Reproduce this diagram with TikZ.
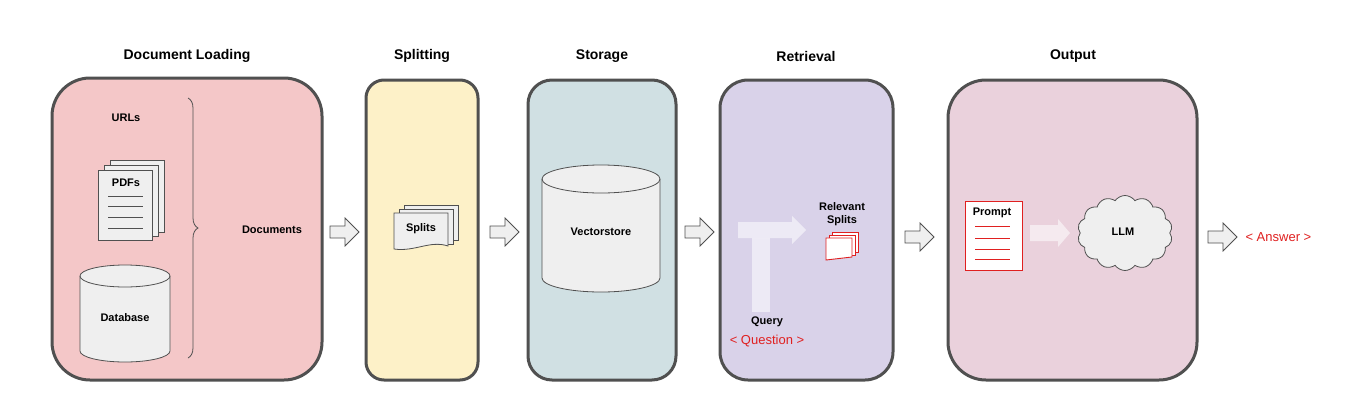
\documentclass[tikz,border=0pt]{standalone}
\usepackage{fontspec}
\setmainfont{Liberation Sans}
\usetikzlibrary{shapes.symbols,decorations.pathreplacing}
\definecolor{bord}{HTML}{505050}
\definecolor{ans}{HTML}{E02020}
\definecolor{pgfill}{HTML}{EFEFEF}
\begin{document}
\begin{tikzpicture}[x=1pt,y=-1pt,
  panel/.style={draw=bord,line width=3pt,rounded corners=38pt},
  title/.style={font=\bfseries\fontsize{14}{16}\selectfont},
  lbl/.style={font=\bfseries\fontsize{11}{13}\selectfont},
  red/.style={font=\fontsize{13}{15}\selectfont,text=ans},
  page/.style={draw=bord,fill=pgfill,line width=0.8pt},
  rpage/.style={draw=ans,fill=white,line width=0.9pt},
  light/.style={fill=white,opacity=0.55},
  blk/.pic={\draw[page] (0,-6) -- (15,-6) -- (15,-14) -- (29,0) -- (15,14) -- (15,6) -- (0,6) -- cycle;},
  cylp/.pic={\draw[page] (-\cyw,0) -- (-\cyw,\cyh) arc[start angle=180,end angle=0,x radius=\cyw,y radius=\cyr] -- (\cyw,0) arc[start angle=0,end angle=-180,x radius=\cyw,y radius=\cyr];
             \draw[bord,line width=0.8pt] (-\cyw,0) arc[start angle=180,end angle=0,x radius=\cyw,y radius=\cyr];}]
\useasboundingbox[fill=white] (0,0) rectangle (1358,410);
% panels
\draw[panel,fill={rgb,255:red,244;green,199;blue,200}] (52,78) rectangle (322,380);
\draw[panel,fill={rgb,255:red,253;green,241;blue,200},rounded corners=18pt] (366,80) rectangle (478,380);
\draw[panel,fill={rgb,255:red,208;green,224;blue,227},rounded corners=24pt] (528,80) rectangle (676,380);
\draw[panel,fill={rgb,255:red,217;green,210;blue,233},rounded corners=28pt] (720,80) rectangle (893,380);
\draw[panel,fill={rgb,255:red,234;green,209;blue,220}] (948,80) rectangle (1197,380);
% titles
\node[title] (t1) at (187,56) {Document Loading};
\node[title] (t2) at (422,56) {Splitting};
\node[title] (t3) at (602,56) {Storage};
\node[title] (t4) at (806,56) {Retrieval};
\node[title] (t5) at (1073,56) {Output};
% block arrows
\pic at (330,232) {blk};
\pic at (490,232) {blk};
\pic at (685,232) {blk};
\pic at (905,237) {blk};
\pic at (1208,237) {blk};
\node[red,anchor=west] (ans) at (1242,237) {< Answer >};
% loading
\node[lbl] (urls) at (126,118) {URLs};
\draw[page] (110,160) rectangle (164,232);
\draw[page] (104,165) rectangle (158,236);
\draw[page] (98,170) rectangle (152,240);
\node[lbl] (pdfs) at (126,183) {PDFs};
\foreach \y in {196,206,217,228} \draw[bord,line width=0.8pt] (108,\y) -- (143,\y);
\def\cyw{45}\def\cyh{75}\def\cyr{11}
\pic at (125,276) {cylp};
\node[lbl] (dbt) at (125,318) {Database};
\draw[bord,line width=0.8pt,decorate,decoration={brace,amplitude=10pt}] (188,98) -- (188,358);
\node[lbl] (docs) at (272,230) {Documents};
% splits
\draw[page] (404,205) rectangle (458,240);
\draw[page] (399,209) rectangle (453,244);
\draw[page] (394,213) -- (448,213) -- (448,246) .. controls (430,240) and (415,252) .. (394,249) -- cycle;
\node[lbl] (spl) at (421,229) {Splits};
% storage
\def\cyw{59}\def\cyh{99}\def\cyr{14}
\pic at (601,179) {cylp};
\node[lbl] (vst) at (601,232) {Vectorstore};
% retrieval
\fill[light] (752,238) rectangle (770,312);
\fill[light] (738,222) -- (792,222) -- (792,216) -- (806,230) -- (792,244) -- (792,238) -- (738,238) -- cycle;
\node[lbl,align=center] (rel) at (842,214) {Relevant\\Splits};
\draw[rpage] (832,232) rectangle (858,252);
\draw[rpage] (829,235) rectangle (855,255);
\draw[rpage] (826,238) -- (852,238) -- (852,257) -- (826,260) -- cycle;
\node[lbl] (q) at (767,322) {Query};
\node[red] (qq) at (767,341) {< Question >};
% output
\draw[rpage] (965,201) rectangle (1022,270);
\node[lbl] (pr) at (992,213) {Prompt};
\foreach \y in {226,238,249,259} \draw[ans,line width=1pt] (975,\y) -- (1010,\y);
\fill[light] (1030,225) -- (1058,225) -- (1058,219) -- (1070,233) -- (1058,247) -- (1058,241) -- (1030,241) -- cycle;
\node[cloud,cloud puffs=14,cloud puff arc=110,aspect=1.3,draw=bord,fill=pgfill,line width=0.8pt,minimum width=95pt,minimum height=75pt] (llm) at (1125,233) {};
\node[lbl] (llmt) at (1123,232) {LLM};
\end{tikzpicture}
\end{document}
